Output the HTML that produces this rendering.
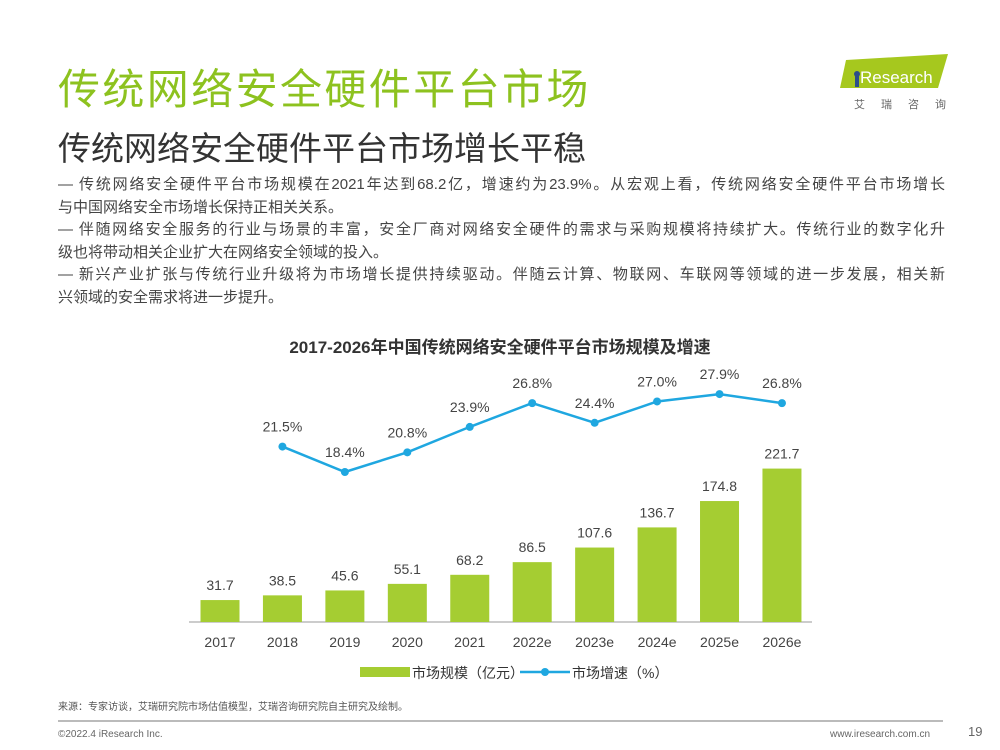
<!DOCTYPE html>
<html><head><meta charset="utf-8"><style>
body{margin:0;width:1000px;height:750px;background:#fff;position:relative;overflow:hidden;font-family:"Liberation Sans","Noto Sans CJK SC",sans-serif;}
.a{position:absolute;white-space:nowrap}
.ln{display:block;width:887px;text-align:justify;text-align-last:justify;white-space:nowrap}
.ln.e{text-align-last:left}
</style></head><body>
<div class="a" style="left:58px;top:56px;font-size:42px;color:#8dc21f;letter-spacing:2.4px">传统网络安全硬件平台市场</div>
<div class="a" style="left:826px;top:52px;width:125px;height:62px">
 <svg width="125" height="62"><polygon points="20,8 122,2 112,36 14,36" fill="#a6c81e"/><circle cx="31" cy="22" r="3" fill="#2b4f8a"/><rect x="29" y="24" width="4" height="11" fill="#2b4f8a"/>
 <text x="34" y="31" font-size="17" fill="#fff" font-family="Liberation Sans,sans-serif">Research</text>
 <text x="28" y="56" font-size="11" fill="#666" letter-spacing="16" font-family="Noto Sans CJK SC,sans-serif">艾瑞咨询</text></svg>
</div>
<div class="a" style="left:58px;top:122px;font-size:33px;color:#333">传统网络安全硬件平台市场增长平稳</div>
<div class="a" style="left:58px;top:174px;font-size:15px;line-height:22.5px;color:#444">
<span class="ln">— 传统网络安全硬件平台市场规模在2021年达到68.2亿，增速约为23.9%。从宏观上看，传统网络安全硬件平台市场增长</span>
<span class="ln e">与中国网络安全市场增长保持正相关关系。</span>
<span class="ln">— 伴随网络安全服务的行业与场景的丰富，安全厂商对网络安全硬件的需求与采购规模将持续扩大。传统行业的数字化升</span>
<span class="ln e">级也将带动相关企业扩大在网络安全领域的投入。</span>
<span class="ln">— 新兴产业扩张与传统行业升级将为市场增长提供持续驱动。伴随云计算、物联网、车联网等领域的进一步发展，相关新</span>
<span class="ln e">兴领域的安全需求将进一步提升。</span>
</div>
<div class="a" style="left:0;width:1000px;text-align:center;top:333px;font-size:17px;font-weight:bold;color:#333">2017-2026年中国传统网络安全硬件平台市场规模及增速</div>
<svg id="chart" class="a" style="left:0;top:0" width="1000" height="750"></svg>
<div class="a" style="left:58px;top:698px;font-size:10px;color:#555">来源：专家访谈，艾瑞研究院市场估值模型，艾瑞咨询研究院自主研究及绘制。</div>
<div class="a" style="left:58px;top:720px;width:885px;height:2px;background:#bbb"></div>
<div class="a" style="left:58px;top:729px;font-size:10px;color:#666">©2022.4 iResearch Inc.</div>
<div class="a" style="left:830px;top:729px;font-size:10px;color:#666">www.iresearch.com.cn</div>
<div class="a" style="left:968px;top:724px;font-size:13px;color:#666">19</div>
<script>
const categories=["2017","2018","2019","2020","2021","2022e","2023e","2024e","2025e","2026e"];
const marketSize=[31.7,38.5,45.6,55.1,68.2,86.5,107.6,136.7,174.8,221.7];
const growth=[null,21.5,18.4,20.8,23.9,26.8,24.4,27.0,27.9,26.8];
const ns="http://www.w3.org/2000/svg",svg=document.getElementById('chart');
const base=622,x0=220,step=62.44,bw=39;
const xs=i=>x0+i*step, yb=v=>base-v*0.692, yl=p=>472-(p-18.4)*8.2;
function mk(t,a,txt){const e=document.createElementNS(ns,t);for(const k in a)e.setAttribute(k,a[k]);if(txt!=null)e.textContent=txt;svg.appendChild(e);return e;}
const ax=mk('line',{x1:189,x2:812,y1:base,y2:base,stroke:'#bbb','stroke-width':1.5});


categories.forEach((c,i)=>{
 const b=mk('rect',{x:xs(i)-bw/2,y:yb(marketSize[i]),width:bw,height:base-yb(marketSize[i]),fill:'#a5cd32'});
 
 
 const bl=mk('text',{x:xs(i),y:yb(marketSize[i])-10,'text-anchor':'middle','font-size':14,fill:'#444'},marketSize[i].toFixed(1));
 
 
 const tl=mk('text',{x:xs(i),y:base+25,'text-anchor':'middle','font-size':14,fill:'#444'},c);
 
 
});
let pts=[];growth.forEach((g,i)=>{if(g!=null)pts.push(xs(i)+','+yl(g));});
const pl=mk('polyline',{points:pts.join(' '),fill:'none',stroke:'#1fa7e0','stroke-width':2.5});


growth.forEach((g,i)=>{if(g==null)return;
 const c=mk('circle',{cx:xs(i),cy:yl(g),r:4,fill:'#1fa7e0'});
 
 
 const t=mk('text',{x:xs(i),y:yl(g)-15,'text-anchor':'middle','font-size':14,fill:'#444'},g.toFixed(1)+'%');
 
 
});
const l1=mk('rect',{x:360,y:667,width:50,height:10,fill:'#a5cd32'});


const l1t=mk('text',{x:412,y:678,'font-size':14,fill:'#333'},'市场规模（亿元）');


const l2=mk('line',{x1:520,x2:570,y1:672,y2:672,stroke:'#1fa7e0','stroke-width':2.5});


const l2c=mk('circle',{cx:545,cy:672,r:4,fill:'#1fa7e0'});


const l2t=mk('text',{x:572,y:678,'font-size':14,fill:'#333'},'市场增速（%）');


</script>
</body></html>
